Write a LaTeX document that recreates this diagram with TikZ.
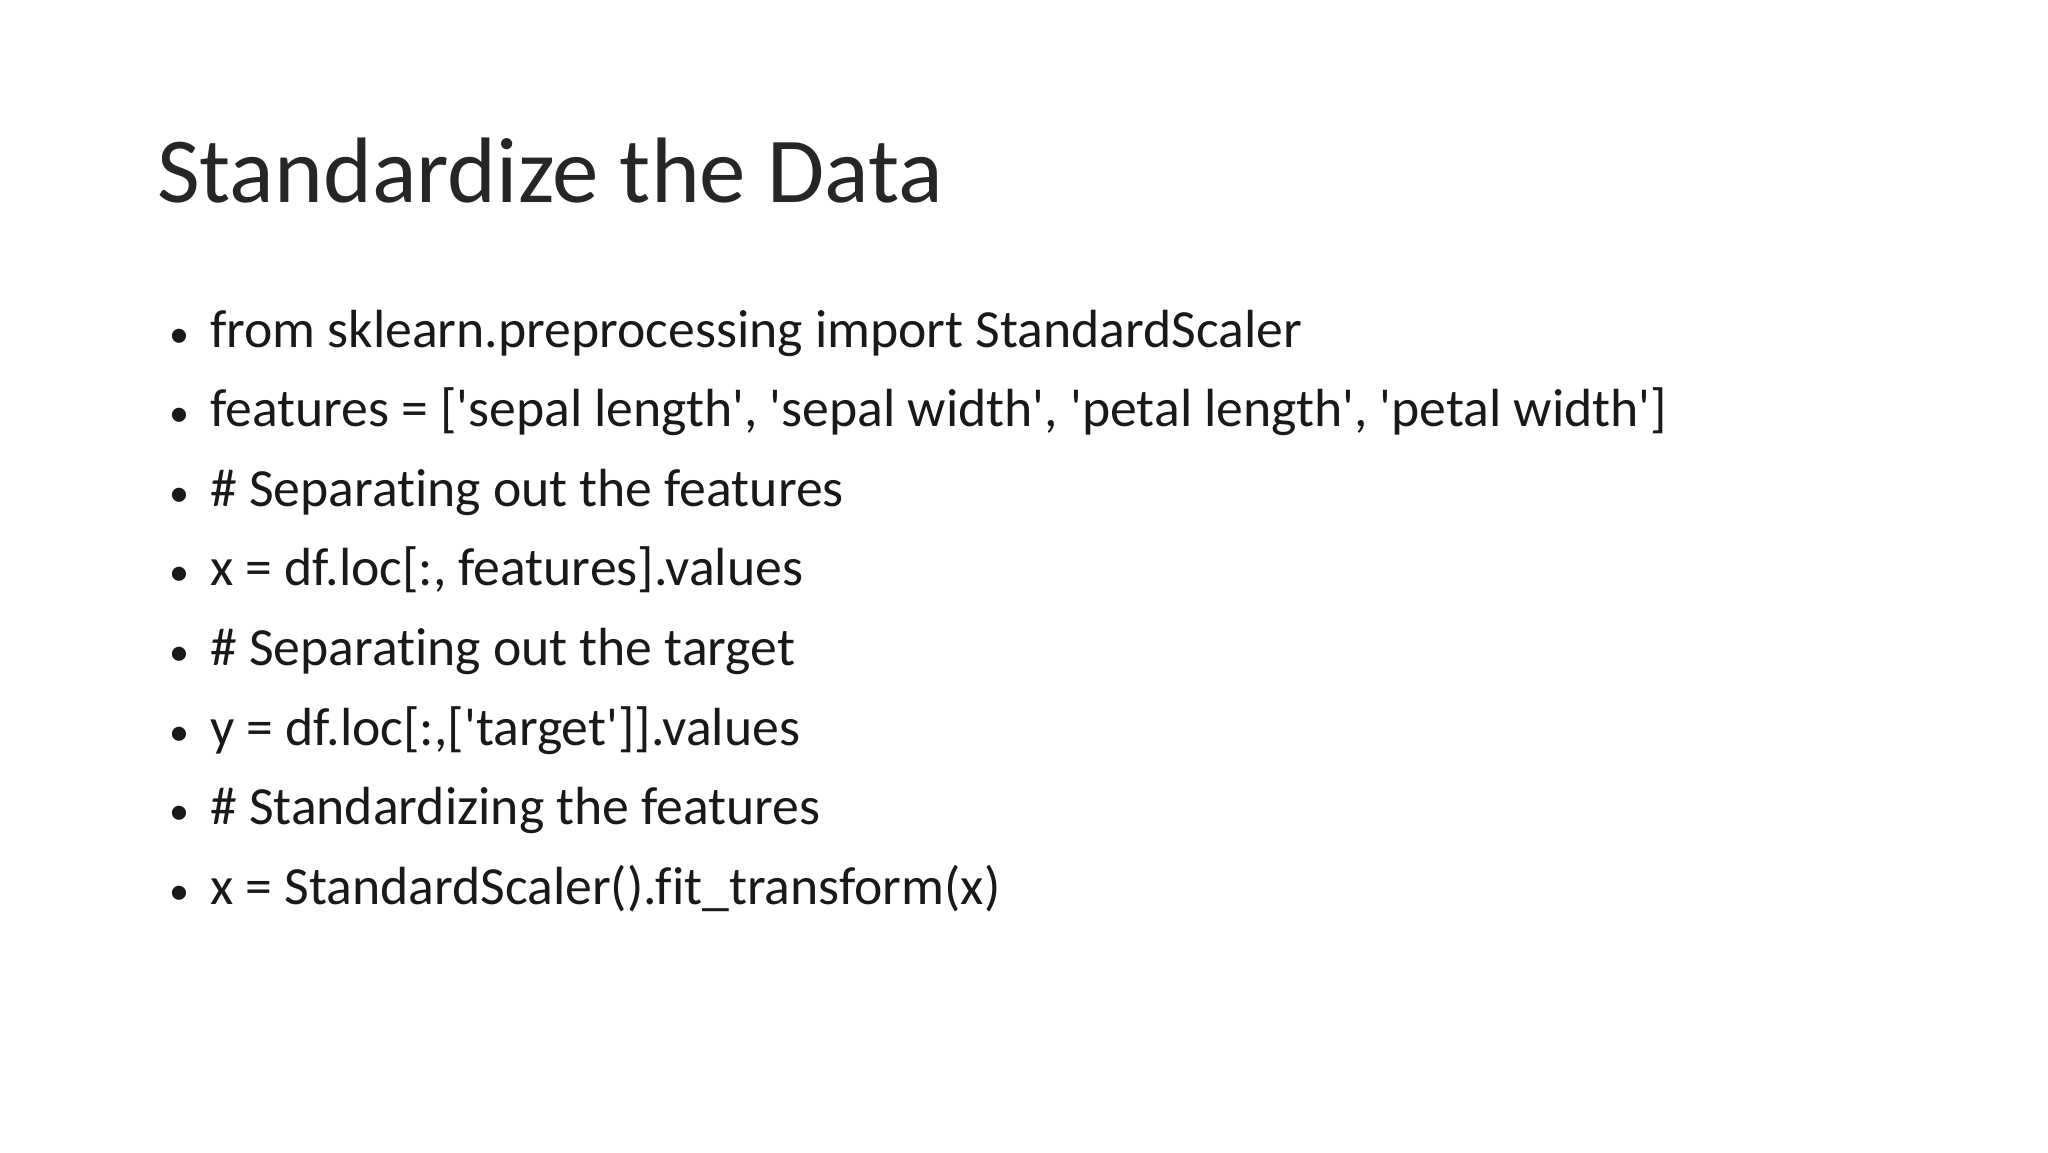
\documentclass[tikz,border=0pt]{standalone}
\usepackage{fontspec}
\setmainfont{Carlito}[Ligatures={NoCommon,TeXOff}]
\newcommand{\sq}{\textquotesingle}
\begin{document}
\begin{tikzpicture}[x=1pt,y=-1pt,
  line/.style={anchor=base west,inner sep=0pt,font=\fontsize{53.7}{60}\selectfont,text=black!90},
  dot/.style={anchor=base west,inner sep=0pt,font=\fontsize{40}{60}\selectfont,text=black!90}]
\useasboundingbox (0,0) rectangle (2048,1152);
\node[anchor=base west,inner sep=0pt,font=\fontsize{93}{110}\selectfont,text=black!85] (title) at (157,202) {Standardize the Data};
\foreach \t [count=\i] in {
 {from sklearn.preprocessing import StandardScaler},
 {features = [\sq sepal length\sq, \sq sepal width\sq, \sq petal length\sq, \sq petal width\sq]},
 {\# Separating out the features},
 {x = df.loc[:, features].values},
 {\# Separating out the target},
 {y = df.loc[:,[\sq target\sq]].values},
 {\# Standardizing the features},
 {x = StandardScaler().fit\_transform(x)}} {
  \node[dot] (b\i) at (169,{347+79.6*(\i-1)}) {•};
  \node[line] (l\i) at (210,{347+79.6*(\i-1)}) {\t};
}
\end{tikzpicture}
\end{document}
